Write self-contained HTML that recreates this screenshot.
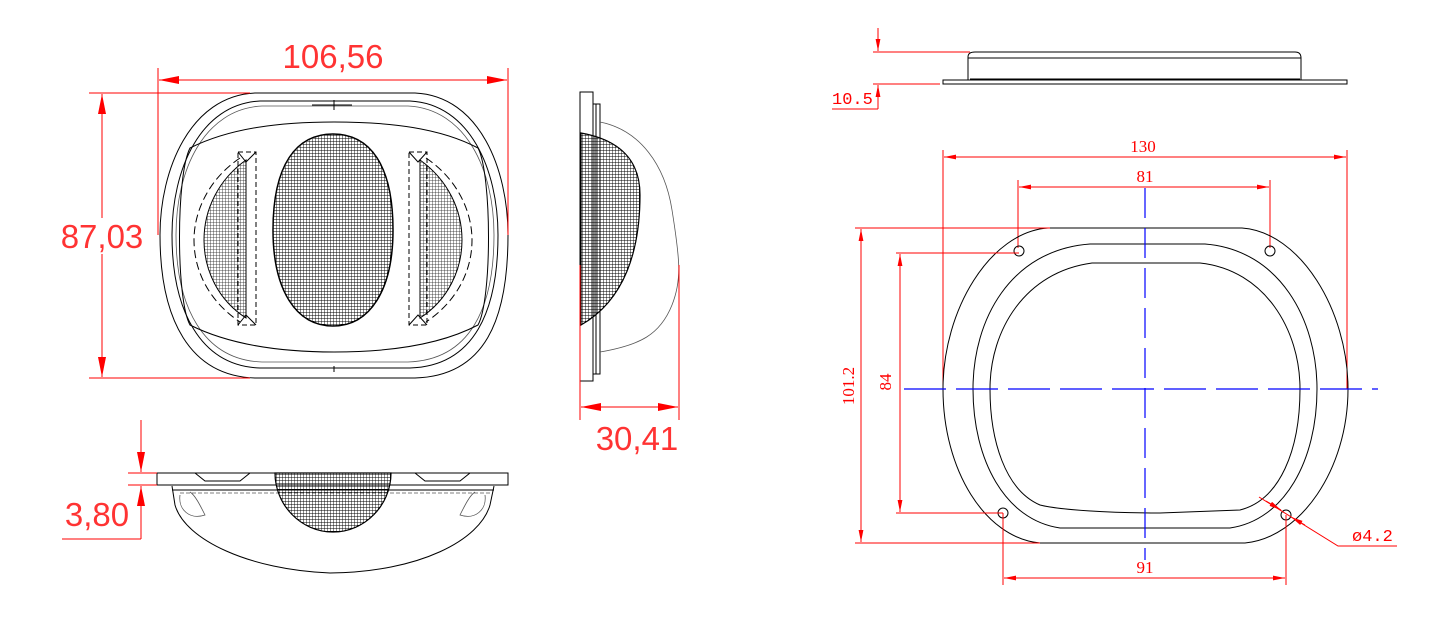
<!DOCTYPE html>
<html><head><meta charset="utf-8"><style>
html,body{margin:0;padding:0;background:#fff;width:1430px;height:644px;overflow:hidden}
svg{display:block}
.r{stroke:#f00;stroke-width:1;fill:none}
.k{stroke:#000;stroke-width:1;fill:none}
.g{stroke:#555;stroke-width:0.8;fill:none}
.b{stroke:#00f;stroke-width:1.2;fill:none}
.t1{font-family:"Liberation Sans",sans-serif;font-size:33px;fill:#f33;font-weight:normal}
.t2{font-family:"Liberation Serif",serif;font-size:17px;fill:#f00}
.t3{font-family:"Liberation Mono",monospace;font-size:17px;fill:#f00}
</style></head><body>
<svg width="1430" height="644" viewBox="0 0 1430 644" xmlns="http://www.w3.org/2000/svg">
<defs>
<pattern id="m1" width="3" height="3" patternUnits="userSpaceOnUse"><path d="M0 0H3M0 0V3" stroke="#000" stroke-width="0.9"/></pattern>
<pattern id="m2" width="3" height="3" patternUnits="userSpaceOnUse"><path d="M0 0H3M0 0V3" stroke="#222" stroke-width="0.8"/></pattern>
<marker id="a" viewBox="0 0 10 4" refX="10" refY="2" markerWidth="22" markerHeight="8" markerUnits="userSpaceOnUse" orient="auto-start-reverse"><path d="M0 0L10 2L0 4Z" fill="#f00"/></marker>
<marker id="s" viewBox="0 0 10 4" refX="10" refY="2" markerWidth="12" markerHeight="5" markerUnits="userSpaceOnUse" orient="auto-start-reverse"><path d="M0 0L10 2L0 4Z" fill="#f00"/></marker>
</defs>

<!-- ===== FRONT VIEW ===== -->
<path class="k" d="M255,93 L415,93 C480,96 508,170 508,235 C508,320 485,376 415,378 L255,378 C190,376 160,320 160,235 C160,170 190,96 255,93 Z"/>
<path class="k" d="M260,101 L410,101 C470,104 498,170 498,235 C498,310 475,366 410,368 L260,368 C200,366 172,310 172,235 C172,170 200,104 260,101 Z"/>
<path class="g" d="M262,106 L408,106 C466,109 494,170 494,235 C494,308 470,360 408,362 L262,362 C204,360 176,308 176,235 C176,170 204,109 262,106 Z"/>
<path class="k" d="M190,148 C230,128 280,122 334,122 C390,122 440,128 478,148 C492,175 492,300 478,325 C440,345 390,352 334,352 C280,352 230,345 190,325 C176,300 176,175 190,148 Z"/>
<line class="k" x1="312" y1="105" x2="352" y2="105"/><line class="k" x1="334" y1="100" x2="334" y2="110"/>
<line class="k" x1="334" y1="366" x2="334" y2="372"/>
<path d="M333,134 C370,134 393,165 393,230 C393,290 370,326 333,326 C296,326 273,290 273,230 C273,165 296,134 333,134 Z" fill="url(#m1)" stroke="#000" stroke-width="1.5"/>
<path d="M246,160 C218,180 204,210 204,240 C204,270 218,300 246,318 Z" fill="url(#m2)" stroke="#000" stroke-width="1"/>
<rect x="238" y="152" width="18" height="173" class="k" stroke-dasharray="5,3"/>
<path class="k" stroke-dasharray="8,4" d="M240,158 C210,178 194,210 194,240 C194,272 210,302 240,322"/>
<path class="k" d="M238,152 L246,162 L256,152 M238,325 L246,315 L256,325"/>
<path d="M420,160 C448,180 462,210 462,240 C462,270 448,300 420,318 Z" fill="url(#m2)" stroke="#000" stroke-width="1"/>
<rect x="409" y="152" width="18" height="173" class="k" stroke-dasharray="5,3"/>
<path class="k" stroke-dasharray="8,4" d="M426,158 C456,178 472,210 472,240 C472,272 456,302 426,322"/>
<path class="k" d="M409,152 L418,162 L427,152 M409,325 L418,315 L427,325"/>
<line class="r" x1="158" y1="68" x2="158" y2="235"/>
<line class="r" x1="508" y1="68" x2="508" y2="235"/>
<line class="r" x1="159" y1="80" x2="507" y2="80" marker-start="url(#a)" marker-end="url(#a)"/>
<text class="t1" x="333" y="68" text-anchor="middle">106,56</text>
<line class="r" x1="89" y1="93" x2="250" y2="93"/>
<line class="r" x1="89" y1="378" x2="250" y2="378"/>
<line class="r" x1="102" y1="94" x2="102" y2="377" marker-start="url(#a)" marker-end="url(#a)"/>
<rect x="50" y="218" width="104" height="36" fill="#fff"/>
<text class="t1" x="102" y="248" text-anchor="middle">87,03</text>

<!-- ===== SIDE VIEW ===== -->
<rect x="580" y="92" width="13" height="289" class="k"/>
<rect x="593" y="104" width="7" height="270" class="k"/>
<line class="k" x1="596" y1="104" x2="596" y2="374"/>
<path class="g" d="M600,122 C640,130 665,165 672,210 C680,260 682,280 672,305 C660,335 640,345 600,352"/>
<path d="M581,133 C620,140 640,160 640,195 C640,250 625,300 581,325 Z" fill="url(#m1)" stroke="#000" stroke-width="1.2"/>
<line class="r" x1="580" y1="265" x2="580" y2="420"/>
<line class="r" x1="679" y1="265" x2="679" y2="420"/>
<line class="r" x1="581" y1="407" x2="678" y2="407" marker-start="url(#a)" marker-end="url(#a)"/>
<text class="t1" x="637" y="450" text-anchor="middle">30,41</text>

<!-- ===== BOTTOM VIEW ===== -->
<rect x="157" y="473" width="351" height="12" class="k"/>
<path class="k" d="M195,473 L205,481 L240,481 L250,473 M415,473 L425,481 L460,481 L470,473"/>
<line class="k" x1="172" y1="490" x2="494" y2="490"/>
<line class="g" x1="180" y1="493" x2="490" y2="493" stroke-dasharray="4,2"/>
<path class="k" d="M172,486 L175,505 C185,540 250,570 330,573 C420,572 480,540 490,505 L494,486"/>
<path class="g" d="M180,495 C178,510 190,520 205,515 C200,505 195,495 190,492 M485,495 C487,510 475,520 460,515 C465,505 470,495 475,492"/>
<path d="M275,473 L391,473 C391,505 365,532 333,532 C301,532 275,505 275,473 Z" fill="url(#m1)" stroke="#000" stroke-width="1.2"/>
<line class="r" x1="128" y1="473" x2="157" y2="473"/>
<line class="r" x1="128" y1="485" x2="157" y2="485"/>
<line class="r" x1="141" y1="420" x2="141" y2="472" marker-end="url(#a)"/>
<line class="r" x1="141" y1="539" x2="141" y2="486" marker-end="url(#a)"/>
<line class="r" x1="62" y1="539" x2="141" y2="539"/>
<text class="t1" x="97" y="526" text-anchor="middle">3,80</text>

<!-- ===== FLANGE SIDE VIEW ===== -->
<rect x="943" y="80" width="404" height="4" class="k"/>
<path class="k" d="M968,80 L968,57 Q968,52 975,52 L1295,52 Q1301,52 1301,58 L1301,80"/>
<line class="k" x1="968" y1="58" x2="1301" y2="58"/>
<line class="k" x1="970" y1="79" x2="1300" y2="79" stroke-width="1.5"/>
<line class="r" x1="873" y1="52" x2="970" y2="52"/>
<line class="r" x1="873" y1="84" x2="940" y2="84"/>
<line class="r" x1="878" y1="28" x2="878" y2="51" marker-end="url(#s)"/>
<line class="r" x1="878" y1="109" x2="878" y2="85" marker-end="url(#s)"/>
<line class="r" x1="832" y1="109" x2="878" y2="109"/>
<text class="t3" x="832" y="104">10.5</text>

<!-- ===== PLAN VIEW ===== -->
<line class="r" x1="943" y1="150" x2="943" y2="389"/>
<line class="r" x1="1347" y1="150" x2="1347" y2="389"/>
<line class="r" x1="944" y1="157" x2="1346" y2="157" marker-start="url(#s)" marker-end="url(#s)"/>
<text class="t2" x="1143" y="152" text-anchor="middle">130</text>
<line class="r" x1="1018" y1="180" x2="1018" y2="248"/>
<line class="r" x1="1270" y1="180" x2="1270" y2="248"/>
<line class="r" x1="1019" y1="187" x2="1269" y2="187" marker-start="url(#s)" marker-end="url(#s)"/>
<text class="t2" x="1145" y="182" text-anchor="middle">81</text>

<path class="k" d="M1048,228 L1242,228 C1300,232 1348,310 1348,389 C1348,470 1300,538 1245,543 L1040,543 C985,538 943,470 943,389 C943,310 990,232 1048,228 Z"/>
<path class="k" d="M1090,244 L1205,244 C1280,250 1317,320 1317,389 C1317,460 1285,520 1230,528 L1060,528 C1005,520 973,460 973,389 C973,320 1010,250 1090,244 Z"/>
<path class="k" d="M1092,263 L1200,263 C1265,270 1300,330 1300,389 C1300,450 1280,500 1240,510 L1160,513 C1110,513 1060,510 1040,505 C1005,490 990,440 990,389 C990,330 1025,272 1092,263 Z"/>
<circle class="k" cx="1019" cy="251" r="5"/>
<circle class="k" cx="1270" cy="251" r="5"/>
<circle class="k" cx="1003" cy="513" r="5"/>
<circle class="k" cx="1286" cy="515" r="5"/>
<line class="b" x1="904" y1="389" x2="1378" y2="389" stroke-dasharray="42,10"/>
<line class="b" x1="1145" y1="188" x2="1145" y2="560" stroke-dasharray="30,10"/>

<line class="r" x1="855" y1="228" x2="1050" y2="228"/>
<line class="r" x1="855" y1="543" x2="1040" y2="543"/>
<line class="r" x1="861" y1="229" x2="861" y2="542" marker-start="url(#s)" marker-end="url(#s)"/>
<text class="t2" transform="translate(854,386) rotate(-90)" text-anchor="middle">101.2</text>
<line class="r" x1="896" y1="253" x2="1019" y2="253"/>
<line class="r" x1="896" y1="513" x2="1003" y2="513"/>
<line class="r" x1="900" y1="254" x2="900" y2="512" marker-start="url(#s)" marker-end="url(#s)"/>
<text class="t2" transform="translate(891,382) rotate(-90)" text-anchor="middle">84</text>

<line class="r" x1="1003" y1="513" x2="1003" y2="585"/>
<line class="r" x1="1286" y1="515" x2="1286" y2="585"/>
<line class="r" x1="1004" y1="578" x2="1285" y2="578" marker-start="url(#s)" marker-end="url(#s)"/>
<text class="t2" x="1145" y="573" text-anchor="middle">91</text>

<path class="r" d="M1259,497 L1338,546 L1397,546"/>
<line class="r" x1="1266" y1="501" x2="1281" y2="510" marker-end="url(#s)"/>
<line class="r" x1="1305" y1="525" x2="1291" y2="517" marker-end="url(#s)"/>
<text class="t3" x="1352" y="541">ø4.2</text>
</svg>
</body></html>
